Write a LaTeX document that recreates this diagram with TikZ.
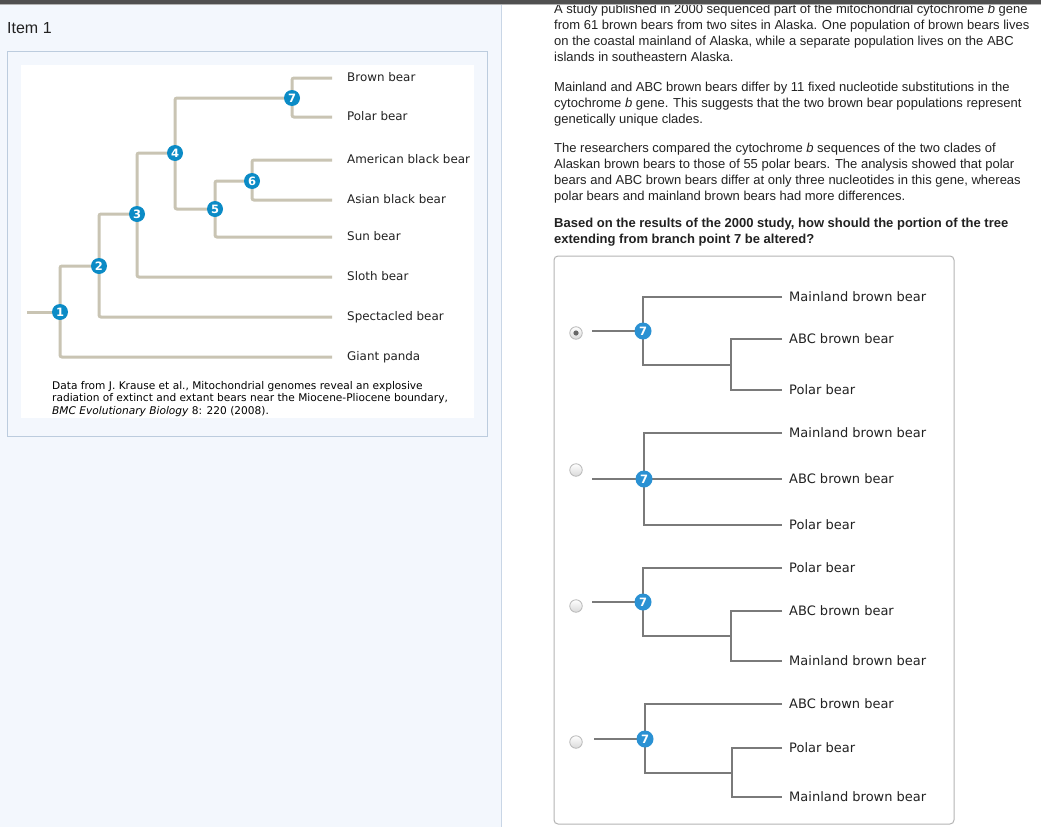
\documentclass[tikz,border=0pt]{standalone}
\usepackage{fontspec}
\setmainfont{Liberation Sans}
\newfontfamily\vfont{DejaVu Sans}
\definecolor{pagebg}{HTML}{F3F7FD}
\definecolor{panelborder}{HTML}{BCCCDE}
\definecolor{sepline}{HTML}{C9D6E6}
\definecolor{treeline}{HTML}{C9C4B3}
\definecolor{nodeblue}{HTML}{0B8BC6}
\definecolor{optblue}{HTML}{2A91D3}
\definecolor{optline}{HTML}{7A7A7A}
\definecolor{txt}{HTML}{222222}
\definecolor{topbar}{HTML}{505050}
\definecolor{optborder}{HTML}{B4B4B4}
\pgfdeclarelayer{bg}\pgfdeclarelayer{lines}\pgfsetlayers{bg,lines,main}
\tikzset{
 lab/.style={anchor=base west, inner sep=0pt, font=\vfont\fontsize{11.9}{13}\selectfont, text=txt},
 opt/.style={anchor=base west, inner sep=0pt, font=\vfont\fontsize{13}{14}\selectfont, text=txt},
 body/.style={anchor=base west, inner sep=0pt, font=\fontsize{13}{16}\selectfont, text=txt},
 capt/.style={anchor=base west, inner sep=0pt, font=\vfont\fontsize{10.6}{12}\selectfont, text=black},
 bn/.style={circle, fill=nodeblue, minimum size=16pt, inner sep=0pt, text=white, font=\vfont\bfseries\fontsize{11.5}{11.5}\selectfont},
 obn/.style={bn, fill=optblue, minimum size=17pt},
 tl/.style={draw=treeline, line width=3pt, rounded corners=2pt},
 ol/.style={draw=optline, line width=2pt},
 radio/.style={circle, minimum size=12.5pt, inner sep=0pt, draw=gray!55, top color=white, bottom color=gray!30, line width=0.8pt},
}
\begin{document}
\begin{tikzpicture}[x=1pt,y=-1pt]
\useasboundingbox (0,0) rectangle (1041,827);
\begin{pgfonlayer}{bg}
\fill[white] (0,0) rectangle (1041,827);
\fill[pagebg] (0,0) rectangle (501,827);
\draw[sepline, line width=1pt] (501,0) -- (501,827);
\draw[panelborder, line width=1pt] (7,51) rectangle (487,436);
\fill[white] (21,65) rectangle (474,418);
\draw[optborder, line width=1pt, fill=white, rounded corners=4pt] (554,256) rectangle (954,824);
\end{pgfonlayer}

% ---------- title
\node[anchor=base west, inner sep=0pt, font=\fontsize{16}{18}\selectfont, text=txt] (item) at (7,33) {Item 1};

% ---------- left tree
\node[bn] (n1) at (60,312) {1};
\node[bn] (n2) at (99,266) {2};
\node[bn] (n3) at (137,214) {3};
\node[bn] (n4) at (175,153) {4};
\node[bn] (n5) at (215,209) {5};
\node[bn] (n6) at (252,181) {6};
\node[bn] (n7) at (292,98) {7};
\coordinate (r0) at (27,312);
\coordinate (eBrown) at (332,78);
\coordinate (ePolar) at (332,117);
\coordinate (eAmer) at (332,160);
\coordinate (eAsian) at (332,200);
\coordinate (eSun) at (332,237);
\coordinate (eSloth) at (332,277);
\coordinate (eSpect) at (332,317);
\coordinate (ePanda) at (332,357);
\node[lab] (lBrown) at (347,81.5) {Brown bear};
\node[lab] (lPolar) at (347,120.5) {Polar bear};
\node[lab] (lAmer) at (347,163.5) {American black bear};
\node[lab] (lAsian) at (347,203.5) {Asian black bear};
\node[lab] (lSun) at (347,240.5) {Sun bear};
\node[lab] (lSloth) at (347,280.5) {Sloth bear};
\node[lab] (lSpect) at (347,320.5) {Spectacled bear};
\node[lab] (lPanda) at (347,360.5) {Giant panda};
\begin{pgfonlayer}{lines}
\draw[tl] (r0) -- (n1.center);
\draw[tl] (n2.center) -| (n1.center) |- (ePanda);
\draw[tl] (n3.center) -| (n2.center) |- (eSpect);
\draw[tl] (n4.center) -| (n3.center) |- (eSloth);
\draw[tl] (n7.center) -| (n4.center) |- (n5.center);
\draw[tl] (n6.center) -| (n5.center) |- (eSun);
\draw[tl] (eAmer) -| (n6.center) |- (eAsian);
\draw[tl] (eBrown) -| (n7.center) |- (ePolar);
\end{pgfonlayer}
\node[capt] (c1) at (52,389) {Data from J. Krause et al., Mitochondrial genomes reveal an explosive};
\node[capt] (c2) at (52,401.5) {radiation of extinct and extant bears near the Miocene-Pliocene boundary,};
\node[capt] (c3) at (52,414) {\textit{BMC Evolutionary Biology} 8: 220 (2008).};

% ---------- right text
\node[body] (t1) at (554,13.3) {A study published in 2000 sequenced part of the mitochondrial cytochrome \textit{b} gene};
\node[body] (t2) at (554,29.3) {from 61 brown bears from two sites in Alaska. One population of brown bears lives};
\node[body] (t3) at (554,45.3) {on the coastal mainland of Alaska, while a separate population lives on the ABC};
\node[body] (t4) at (554,61.3) {islands in southeastern Alaska.};
\node[body] (t5) at (554,91.5) {Mainland and ABC brown bears differ by 11 fixed nucleotide substitutions in the};
\node[body] (t6) at (554,107.5) {cytochrome \textit{b} gene. This suggests that the two brown bear populations represent};
\node[body] (t7) at (554,123.5) {genetically unique clades.};
\node[body] (t8) at (554,152) {The researchers compared the cytochrome \textit{b} sequences of the two clades of};
\node[body] (t9) at (554,168) {Alaskan brown bears to those of 55 polar bears. The analysis showed that polar};
\node[body] (t10) at (554,184) {bears and ABC brown bears differ at only three nucleotides in this gene, whereas};
\node[body] (t11) at (554,200) {polar bears and mainland brown bears had more differences.};
\node[body, font=\bfseries\fontsize{13}{16}\selectfont] (t12) at (554,227) {Based on the results of the 2000 study, how should the portion of the tree};
\node[body, font=\bfseries\fontsize{13}{16}\selectfont] (t13) at (554,243) {extending from branch point 7 be altered?};

% top bar (drawn over the clipped first line)
\fill[topbar] (0,0) rectangle (1041,3.5);
\fill[gray!60] (0,3.5) rectangle (1041,4.5);

% ---------- option 1
\node[radio] (r1) at (576,333) {};
\fill[gray!80!black] (r1.center) circle (2.6pt);
\node[obn] (a7) at (643,331) {7};
\coordinate (o1) at (592,331);
\coordinate (s1) at (731,365);
\coordinate (eM1) at (782,297);
\coordinate (eA1) at (782,339);
\coordinate (eP1) at (782,390);
\node[opt] (lM1) at (789,301.7) {Mainland brown bear};
\node[opt] (lA1) at (789,343.7) {ABC brown bear};
\node[opt] (lP1) at (789,394.7) {Polar bear};
\begin{pgfonlayer}{lines}
\draw[ol] (o1) -- (a7.center);
\draw[ol] (eM1) -| (a7.center) |- (s1);
\draw[ol] (eA1) -| (s1) |- (eP1);
\end{pgfonlayer}

% ---------- option 2
\node[radio] (r2) at (576,470) {};
\node[obn] (b7) at (644,479) {7};
\coordinate (o2) at (592,479);
\coordinate (eM2) at (782,433);
\coordinate (eA2) at (782,479);
\coordinate (eP2) at (782,525);
\node[opt] (lM2) at (789,437.7) {Mainland brown bear};
\node[opt] (lA2) at (789,483.7) {ABC brown bear};
\node[opt] (lP2) at (789,529.7) {Polar bear};
\begin{pgfonlayer}{lines}
\draw[ol] (o2) -- (b7.center) -- (eA2);
\draw[ol] (eM2) -| (b7.center) |- (eP2);
\end{pgfonlayer}

% ---------- option 3
\node[radio] (r3) at (576,606) {};
\node[obn] (c7) at (643,602) {7};
\coordinate (o3) at (592,602);
\coordinate (s3) at (731,636);
\coordinate (eP3) at (782,568);
\coordinate (eA3) at (782,611);
\coordinate (eM3) at (782,661);
\node[opt] (lP3) at (789,572.7) {Polar bear};
\node[opt] (lA3) at (789,615.7) {ABC brown bear};
\node[opt] (lM3) at (789,665.7) {Mainland brown bear};
\begin{pgfonlayer}{lines}
\draw[ol] (o3) -- (c7.center);
\draw[ol] (eP3) -| (c7.center) |- (s3);
\draw[ol] (eA3) -| (s3) |- (eM3);
\end{pgfonlayer}

% ---------- option 4
\node[radio] (r4) at (576,742) {};
\node[obn] (d7) at (645,739) {7};
\coordinate (o4) at (594,739);
\coordinate (s4) at (732,773);
\coordinate (eA4) at (782,704);
\coordinate (eP4) at (782,748);
\coordinate (eM4) at (782,797);
\node[opt] (lA4) at (789,708.7) {ABC brown bear};
\node[opt] (lP4) at (789,752.7) {Polar bear};
\node[opt] (lM4) at (789,801.7) {Mainland brown bear};
\begin{pgfonlayer}{lines}
\draw[ol] (o4) -- (d7.center);
\draw[ol] (eA4) -| (d7.center) |- (s4);
\draw[ol] (eP4) -| (s4) |- (eM4);
\end{pgfonlayer}
\end{tikzpicture}
\end{document}
